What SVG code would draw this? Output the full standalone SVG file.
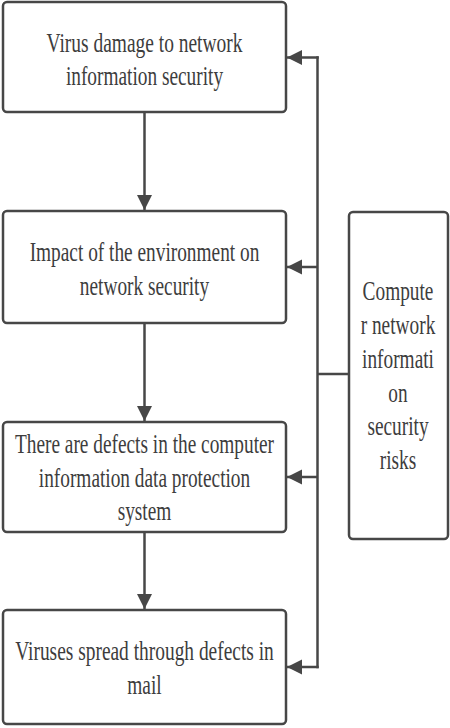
<svg xmlns="http://www.w3.org/2000/svg" width="450" height="728" viewBox="0 0 450 728">
<style>
.box{fill:#fff;stroke:#474747;stroke-width:2.5}
.t{font-family:"Liberation Serif","Times New Roman",serif;font-size:28px;fill:#3d3d3d;text-anchor:middle}
.c{fill:none;stroke:#474747;stroke-width:2.5}
</style>
<defs>
<marker id="ah" markerUnits="userSpaceOnUse" markerWidth="16" markerHeight="16" refX="15" refY="7.5" orient="auto" viewBox="0 0 16 16">
<path d="M0,0 L15,7.5 L0,15 z" fill="#474747"/>
</marker>
</defs>
<rect width="450" height="728" fill="#fff"/>
<g id="connectors">
<path class="c" d="M144.5 112 V210" marker-end="url(#ah)"/>
<path class="c" d="M144.5 323 V421" marker-end="url(#ah)"/>
<path class="c" d="M144.5 532 V609" marker-end="url(#ah)"/>
<path class="c" d="M349 374 H317.5"/>
<path class="c" d="M317.5 56.3 V668.2"/>
<path class="c" d="M318.7 57.5 H287" marker-end="url(#ah)"/>
<path class="c" d="M317.5 267 H287" marker-end="url(#ah)"/>
<path class="c" d="M317.5 477 H287" marker-end="url(#ah)"/>
<path class="c" d="M318.7 667 H287" marker-end="url(#ah)"/>
</g>
<g id="n1">
<rect class="box" x="3" y="2" width="283" height="110" rx="4"/>
<text class="t" x="144.5" y="52" textLength="195.8" lengthAdjust="spacingAndGlyphs">Virus damage to network</text>
<text class="t" x="144.5" y="85" textLength="157.2" lengthAdjust="spacingAndGlyphs">information security</text>
</g>
<g id="n2">
<rect class="box" x="3" y="211" width="283" height="112" rx="4"/>
<text class="t" x="144.5" y="261" textLength="229.7" lengthAdjust="spacingAndGlyphs">Impact of the environment on</text>
<text class="t" x="144.5" y="295" textLength="129.3" lengthAdjust="spacingAndGlyphs">network security</text>
</g>
<g id="n3">
<rect class="box" x="3" y="422" width="283" height="110" rx="4"/>
<text class="t" x="144.5" y="453" textLength="259.1" lengthAdjust="spacingAndGlyphs">There are defects in the computer</text>
<text class="t" x="144.5" y="487" textLength="211.4" lengthAdjust="spacingAndGlyphs">information data protection</text>
<text class="t" x="144.5" y="520" textLength="53.7" lengthAdjust="spacingAndGlyphs">system</text>
</g>
<g id="n4">
<rect class="box" x="3" y="610" width="283" height="114" rx="4"/>
<text class="t" x="144.5" y="660" textLength="258.6" lengthAdjust="spacingAndGlyphs">Viruses spread through defects in</text>
<text class="t" x="144.5" y="694" textLength="34.4" lengthAdjust="spacingAndGlyphs">mail</text>
</g>
<g id="n5">
<rect class="box" x="349" y="212" width="99" height="327" rx="4"/>
<text class="t" x="398" y="300" textLength="70.8" lengthAdjust="spacingAndGlyphs">Compute</text>
<text class="t" x="398" y="334" textLength="74.6" lengthAdjust="spacingAndGlyphs">r network</text>
<text class="t" x="398" y="368" textLength="71.9" lengthAdjust="spacingAndGlyphs">informati</text>
<text class="t" x="398" y="402" textLength="19.3" lengthAdjust="spacingAndGlyphs">on</text>
<text class="t" x="398" y="435" textLength="61.2" lengthAdjust="spacingAndGlyphs">security</text>
<text class="t" x="398" y="469" textLength="36.5" lengthAdjust="spacingAndGlyphs">risks</text>
</g>
</svg>
